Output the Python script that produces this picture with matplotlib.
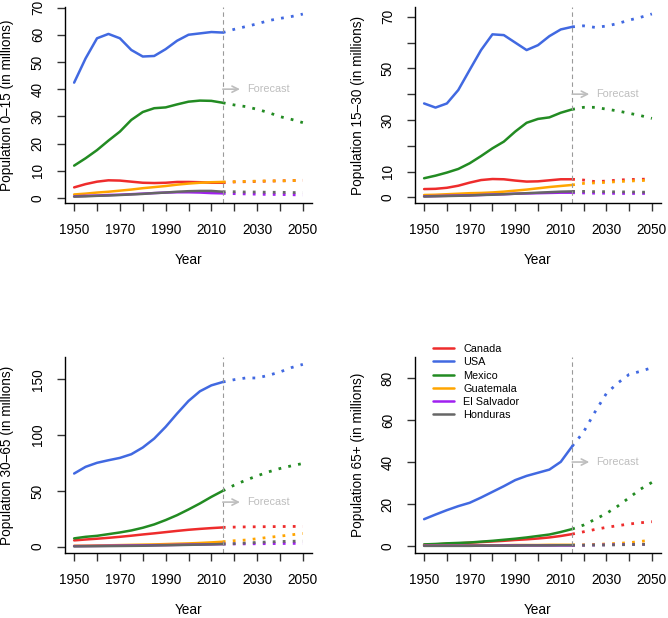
import numpy as np
import matplotlib
matplotlib.use("Agg")
import matplotlib.pyplot as plt

plt.rcParams['font.family'] = ['Liberation Sans', 'DejaVu Sans']

# years 1950..2050 every 5 years; 2015 is the last observed year
years = list(range(1950, 2055, 5))
last_obs = 2015

countries = ["Canada", "USA", "Mexico", "Guatemala", "El Salvador", "Honduras"]
colors = ["#EE2C2C", "#4169E1", "#228B22", "#FFA500", "#A020F0", "#666666"]

# Population 0-15
canada_0_15 = [3.9, 5.1, 6.0, 6.5, 6.4, 6.0, 5.6, 5.5, 5.6, 5.9, 5.9, 5.8, 5.6, 5.6,
               5.9, 6.0, 6.1, 6.2, 6.3, 6.4, 6.5]
usa_0_15 = [42.4, 51.3, 58.7, 60.3, 58.7, 54.4, 52.0, 52.2, 54.7, 57.8, 60.0, 60.5, 61.0, 60.8,
            62.0, 63.0, 64.0, 65.2, 66.0, 66.7, 67.6]
mexico_0_15 = [11.9, 14.6, 17.6, 21.1, 24.4, 28.7, 31.6, 33.0, 33.3, 34.4, 35.4, 35.8, 35.7, 35.0,
               34.2, 33.6, 32.6, 31.4, 29.9, 28.9, 27.7]
guatemala_0_15 = [1.3, 1.6, 2.0, 2.3, 2.7, 3.1, 3.6, 4.0, 4.4, 4.9, 5.3, 5.6, 5.8, 5.9,
                  6.0, 6.1, 6.2, 6.3, 6.3, 6.4, 6.5]
salvador_0_15 = [0.6, 0.8, 0.9, 1.1, 1.2, 1.4, 1.6, 1.8, 2.0, 2.1, 2.1, 2.0, 1.8, 1.7,
                 1.6, 1.5, 1.4, 1.3, 1.3, 1.2, 1.1]
honduras_0_15 = [0.5, 0.6, 0.8, 0.9, 1.1, 1.3, 1.5, 1.8, 2.0, 2.3, 2.5, 2.6, 2.6, 2.3,
                 2.3, 2.2, 2.2, 2.1, 2.1, 2.0, 2.0]

# Population 15-30
canada_15_30 = [3.2, 3.3, 3.7, 4.5, 5.7, 6.7, 7.1, 7.0, 6.5, 6.1, 6.2, 6.6, 7.0, 7.0,
                6.7, 6.1, 6.3, 6.7, 6.9, 7.0, 7.1]
usa_15_30 = [36.4, 34.8, 36.4, 41.6, 49.4, 57.1, 63.2, 62.9, 60.0, 57.1, 59.0, 62.5, 65.1, 66.1,
             66.5, 65.9, 66.4, 67.4, 68.7, 69.8, 71.1]
mexico_15_30 = [7.4, 8.4, 9.6, 11.0, 13.2, 16.0, 19.0, 21.6, 25.5, 28.9, 30.4, 31.0, 32.8, 34.1,
                34.9, 34.9, 34.2, 33.5, 32.6, 31.7, 30.6]
guatemala_15_30 = [0.9, 1.0, 1.2, 1.4, 1.6, 1.7, 1.9, 2.2, 2.6, 3.0, 3.5, 4.0, 4.4, 4.8,
                   5.4, 5.6, 5.8, 6.1, 6.3, 6.5, 6.6]
salvador_15_30 = [0.4, 0.5, 0.6, 0.7, 0.8, 0.9, 1.1, 1.2, 1.4, 1.5, 1.6, 1.7, 1.8, 1.8,
                  1.7, 1.6, 1.6, 1.5, 1.5, 1.5, 1.5]
honduras_15_30 = [0.3, 0.4, 0.5, 0.6, 0.7, 0.9, 1.0, 1.2, 1.4, 1.6, 1.8, 2.0, 2.2, 2.3,
                  2.3, 2.2, 2.2, 2.1, 2.1, 2.0, 2.0]

# Population 30-65
canada_30_65 = [5.7, 6.5, 7.2, 8.0, 8.9, 9.9, 11.0, 12.0, 13.1, 14.2, 15.2, 16.0, 16.7, 17.3,
                17.6, 17.8, 17.9, 18.0, 18.1, 18.2, 18.2]
usa_30_65 = [65.6, 71.6, 75.2, 77.5, 79.6, 82.9, 88.9, 96.9, 107.4, 119.3, 130.6, 139.3, 144.6, 147.6,
             149.7, 151.2, 151.2, 153.6, 156.6, 160.5, 163.4]
mexico_30_65 = [7.5, 8.9, 9.8, 11.3, 12.8, 14.6, 17.0, 20.0, 23.9, 28.3, 33.4, 38.8, 44.7, 50.1,
                55.2, 59.6, 63.5, 67.1, 70.1, 72.5, 74.6]
guatemala_30_65 = [0.9, 1.0, 1.2, 1.3, 1.5, 1.7, 1.9, 2.1, 2.4, 2.7, 3.0, 3.4, 3.9, 4.5,
                   5.4, 6.0, 7.2, 8.4, 9.5, 10.7, 11.9]
salvador_30_65 = [0.6, 0.7, 0.8, 0.9, 1.0, 1.1, 1.2, 1.4, 1.5, 1.7, 1.9, 2.0, 2.2, 2.4,
                  2.5, 2.6, 2.7, 2.8, 2.9, 3.0, 3.0]
honduras_30_65 = [0.3, 0.4, 0.5, 0.6, 0.7, 0.8, 0.9, 1.1, 1.3, 1.5, 1.7, 1.9, 2.1, 2.4,
                  2.8, 3.3, 3.9, 4.3, 4.7, 4.9, 5.1]

# Population 65+
canada_65 = [0.6, 0.8, 1.1, 1.3, 1.6, 1.9, 2.2, 2.5, 2.9, 3.2, 3.6, 4.1, 4.8, 5.7,
             6.8, 7.9, 8.9, 9.7, 10.5, 11.1, 11.6]
usa_65 = [12.8, 15.0, 17.1, 19.0, 20.6, 23.1, 25.8, 28.5, 31.4, 33.4, 34.9, 36.4, 40.1, 47.5,
          54.3, 63.8, 72.6, 77.6, 81.7, 83.2, 84.9]
mexico_65 = [0.8, 1.0, 1.3, 1.5, 1.7, 2.1, 2.5, 3.0, 3.5, 4.1, 4.8, 5.5, 6.7, 8.1,
             10.0, 12.7, 15.5, 19.0, 23.0, 27.1, 30.3]
guatemala_65 = [0.3, 0.3, 0.3, 0.3, 0.4, 0.4, 0.4, 0.4, 0.5, 0.5, 0.5, 0.6, 0.6, 0.6,
                0.6, 0.8, 1.0, 1.3, 1.6, 2.2, 2.9]
salvador_65 = [0.2, 0.2, 0.2, 0.2, 0.2, 0.2, 0.2, 0.3, 0.3, 0.3, 0.3, 0.3, 0.3, 0.3,
               0.4, 0.5, 0.6, 0.7, 0.8, 0.8, 0.9]
honduras_65 = [0.1, 0.1, 0.1, 0.1, 0.1, 0.2, 0.2, 0.2, 0.2, 0.3, 0.3, 0.3, 0.4, 0.4,
               0.4, 0.5, 0.5, 0.6, 0.7, 0.8, 0.8]

panels = [
    ("Population 0\u201315 (in millions)",
     [canada_0_15, usa_0_15, mexico_0_15, guatemala_0_15, salvador_0_15, honduras_0_15],
     list(range(0, 80, 10)), [0, 10, 20, 30, 40, 50, 60, 70], (-1.84, 70.2)),
    ("Population 15\u201330 (in millions)",
     [canada_15_30, usa_15_30, mexico_15_30, guatemala_15_30, salvador_15_30, honduras_15_30],
     list(range(0, 80, 10)), [0, 10, 30, 50, 70], (-2.2, 73.8)),
    ("Population 30\u201365 (in millions)",
     [canada_30_65, usa_30_65, mexico_30_65, guatemala_30_65, salvador_30_65, honduras_30_65],
     [0, 50, 100, 150], [0, 50, 100, 150], (-5.6, 170)),
    ("Population 65+ (in millions)",
     [canada_65, usa_65, mexico_65, guatemala_65, salvador_65, honduras_65],
     [0, 20, 40, 60, 80], [0, 20, 40, 60, 80], (-3.3, 90)),
]

W, H = 668, 618
fig = plt.figure(figsize=(W / 100, H / 100), dpi=100)

# axes boxes in pixels: left, top, right, bottom
boxes = [(65, 7, 312, 203), (415, 7, 661, 203),
         (65, 357, 312, 553), (415, 357, 661, 553)]

yrs = np.array(years)
split = years.index(last_obs)
line_handles = []

for (ylabel, series, yt, ylab_vals, ylim), (l, t, r, b) in zip(panels, boxes):
    ax = fig.add_axes([l / W, 1 - b / H, (r - l) / W, (b - t) / H])
    handles = []
    for vals, c in zip(series, colors):
        v = np.array(vals)
        h, = ax.plot(yrs[:split + 1], v[:split + 1], color=c, lw=1.8,
                     solid_capstyle='round')
        ax.plot(yrs[split:], v[split:], color=c, lw=2.0, linestyle=(0, (1, 2.6)))
        handles.append(h)
    line_handles = handles

    ax.axvline(last_obs, color="#9a9a9a", lw=0.8, linestyle=(0, (4, 3)))
    ax.annotate("", xy=(2022.5, 40), xytext=(last_obs, 40),
                arrowprops=dict(arrowstyle="->", color="#BEBEBE", lw=1.2,
                                mutation_scale=11, shrinkA=0, shrinkB=0))
    ax.text(2025.5, 40, "Forecast", color="#BEBEBE", fontsize=7.8, va="center", ha="left")

    ax.set_xlim(1946, 2054)
    ax.set_ylim(*ylim)
    ax.set_xticks(range(1950, 2060, 10))
    ax.set_xticklabels([str(y) if (y - 1950) % 20 == 0 else "" for y in range(1950, 2060, 10)])
    ax.set_yticks(yt)
    ax.set_yticklabels([str(v) if v in ylab_vals else "" for v in yt],
                       rotation=90, va="center")
    ax.spines["top"].set_visible(False)
    ax.spines["right"].set_visible(False)
    ax.spines["left"].set_linewidth(1.0)
    ax.spines["bottom"].set_linewidth(1.0)
    ax.tick_params(direction="out", length=6, width=1.0, labelsize=9.8, pad=8.5,
                   color="#333333")
    ax.set_xlabel("Year", fontsize=9.8)
    ax.set_ylabel(ylabel, fontsize=9.8)
    ax.xaxis.set_label_coords(0.5, -0.255)
    ax.yaxis.set_label_coords(-0.205, 0.5)

fig.legend(line_handles, countries, loc="upper left", bbox_to_anchor=(433 / W, 1 - 344 / H),
           frameon=False, fontsize=7.8, handlelength=1.95, handletextpad=0.85,
           labelspacing=0.3, borderpad=0, borderaxespad=0)

fig.savefig("out.png", dpi=100)
